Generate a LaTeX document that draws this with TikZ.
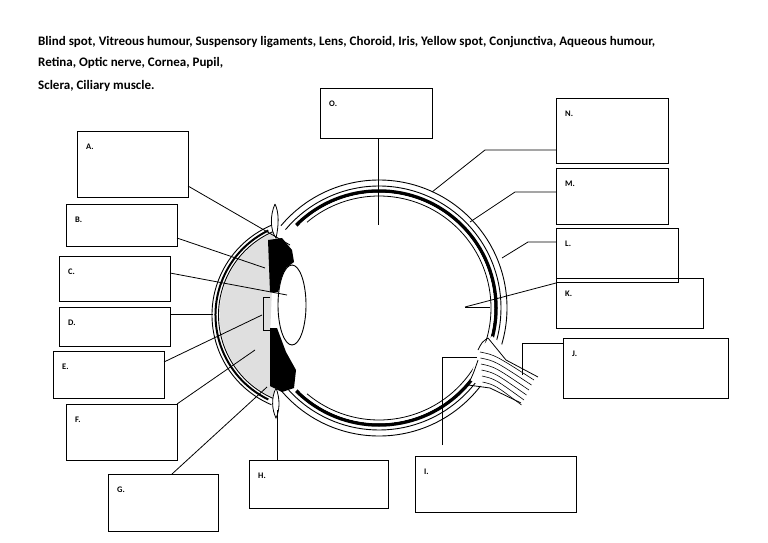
\documentclass[tikz,border=0pt]{standalone}
\usepackage{fontspec}
\setmainfont{Carlito}
\begin{document}
\begin{tikzpicture}[x=1pt,y=-1pt,
  box/.style={draw,line width=1pt,anchor=north west,inner sep=0pt},
  lab/.style={anchor=north west,font=\bfseries\fontsize{8.5}{9}\selectfont,inner sep=0pt},
  lead/.style={line width=0.8pt},
  hd/.style={anchor=west,font=\bfseries\fontsize{13}{14}\selectfont,inner sep=0pt}]
\useasboundingbox (0,0) rectangle (768,543);
\fill[white] (0,0) rectangle (768,543);
\node[hd] (t1) at (38,42) {Blind spot, Vitreous humour, Suspensory ligaments, Lens, Choroid, Iris, Yellow spot, Conjunctiva, Aqueous humour,};
\node[hd] (t2) at (38,63) {Retina, Optic nerve, Cornea, Pupil,};
\node[hd] (t3) at (38,86) {Sclera, Ciliary muscle.};
% boxes
\foreach \n/\x/\y/\xx/\yy in {O/320/88/432/138,N/556/98/668/163,M/556/168/668/224,L/556/228/678/282,K/556/278/703/328,J/563/338/728/398,A/77/131/188/197,B/66/204/177/246,C/59/256/170/301,D/59/307/170/346,E/53/351/164/398,F/66/404/177/460,G/108/474/218/531,H/249/460/388/508,I/415/456/576/512}{
  \draw[line width=1pt] (\x,\y) rectangle (\xx,\yy);
  \coordinate (\n) at (\x,\y);
  \node[lab] (l\n) at (\x+9,\y+13) {\n.};
}
% eye
\coordinate (c) at (379,308);
\fill[gray!25] (309.5,315) ++(113:90) arc (113:247:90) -- (268,385) -- (266,245) -- cycle;
\draw[line width=0.9pt] (c) ++(140:128) arc (140:-140:128);
\draw[line width=0.9pt] (c) ++(140:122) arc (140:-140:122);
\draw[line width=3.5pt] (c) ++(135:117) arc (135:-135:117);
\draw[line width=0.8pt,white] (c) ++(133:114.8) arc (133:-133:114.8);
\draw[line width=0.8pt] (c) ++(130:112) arc (130:-130:112);
% cornea
\draw[line width=0.9pt] (309.5,315) ++(113:97.5) arc (113:247:97.5);
\draw[line width=0.9pt] (309.5,315) ++(113:91) arc (113:247:91);
\draw[line width=2pt] (309.5,315) ++(116:94) arc (116:244:94);
% iris & ciliary
\fill (268,240) -- (282,238) -- (292,250) -- (294,262) -- (286,268) -- (278,292) -- (270,292) -- cycle;
\fill (270,328) -- (277,328) -- (286,352) -- (296,370) -- (294,388) -- (282,392) -- (270,386) -- cycle;
% lens
\draw[fill=white,line width=0.9pt] (292,305) ellipse (14 and 40);
% pupil bracket
\draw[line width=0.9pt] (270,297) -- (263,297) -- (263,330) -- (270,330);
% eyelid folds
\draw[line width=0.8pt,fill=white] (275,204) .. controls (270,215) and (270,230) .. (276,238) .. controls (279,225) and (279,212) .. (275,204);
\draw[line width=0.8pt,fill=white] (276,388) .. controls (271,398) and (272,410) .. (276,418) .. controls (280,410) and (280,398) .. (276,388);
% optic nerve
\fill[white] (478,350) -- (492,336) -- (540,378) -- (528,412) -- (470,380) -- cycle;
\draw[line width=0.8pt] (488,338) -- (506,360) -- (538,377);
\draw[line width=0.8pt] (468,385) -- (490,388) -- (521,403);
\foreach \i in {0,...,5}{
  \draw[line width=0.6pt] (480+\i*0.5,352+\i*6) .. controls (495,355+\i*6) .. (534-\i*2.5,380+\i*5);
}
\draw[line width=0.8pt] (478,350) .. controls (482,342) .. (488,338);
\draw[line width=0.8pt] (468,385) .. controls (474,372) .. (478,360);
% leaders
\draw[lead] (378,138) -- (378,225);
\draw[lead] (556,150) -- (485,150) -- (432,192);
\draw[lead] (556,192) -- (515,192) -- (470,222);
\draw[lead] (556,242) -- (528,242) -- (502,258);
\draw[lead] (556,283) -- (465,307);
\draw[lead] (465,307) -- (490,307);
\draw[lead] (563,343) -- (522,343) -- (522,375);
\draw[lead] (442,445) -- (442,357) -- (477,357);
\draw[lead] (277,460) -- (277,410);
\draw[lead] (172,474) -- (267,387);
\draw[lead] (177,404) -- (255,350);
\draw[lead] (164,362) -- (262,315);
\draw[lead] (170,314) -- (213,314);
\draw[lead] (170,273) -- (287,295);
\draw[lead] (177,238) -- (265,268);
\draw[lead] (188,186) -- (290,245);
\end{tikzpicture}
\end{document}
